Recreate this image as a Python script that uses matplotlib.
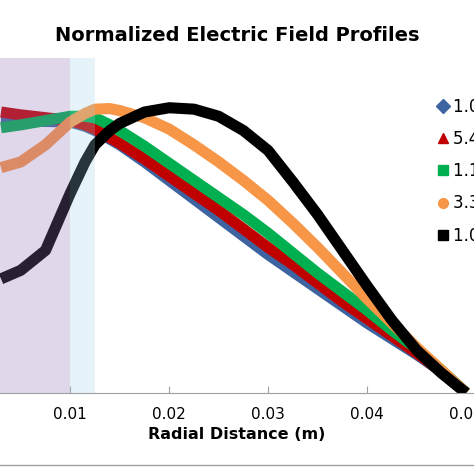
import numpy as np
import matplotlib
matplotlib.use("Agg")
import matplotlib.pyplot as plt
from matplotlib.lines import Line2D

x = [0.003, 0.005, 0.0075, 0.01, 0.0115, 0.0125, 0.014, 0.015, 0.0175, 0.02, 0.0225,
     0.025, 0.0275, 0.03, 0.0325, 0.035, 0.0375, 0.04, 0.0425, 0.045, 0.0475, 0.05]
blue = [0.955, 0.954, 0.952, 0.95, 0.935, 0.92, 0.89, 0.87, 0.81, 0.745, 0.68,
        0.615, 0.55, 0.485, 0.425, 0.365, 0.305, 0.245, 0.19, 0.135, 0.075, 0.0]
red = [0.985, 0.975, 0.965, 0.955, 0.94, 0.925, 0.895, 0.875, 0.82, 0.76, 0.70,
       0.64, 0.575, 0.51, 0.45, 0.385, 0.32, 0.26, 0.20, 0.14, 0.075, 0.0]
green = [0.93, 0.94, 0.955, 0.97, 0.97, 0.965, 0.94, 0.92, 0.865, 0.805, 0.745,
         0.685, 0.625, 0.56, 0.49, 0.42, 0.355, 0.29, 0.22, 0.155, 0.08, 0.0]
orange = [0.79, 0.81, 0.87, 0.95, 0.98, 0.995, 0.997, 0.99, 0.965, 0.925, 0.87,
          0.81, 0.745, 0.675, 0.595, 0.51, 0.42, 0.33, 0.245, 0.16, 0.08, 0.0]
black = [0.40, 0.43, 0.50, 0.70, 0.81, 0.87, 0.92, 0.945, 0.985, 1.0, 0.995,
         0.97, 0.92, 0.85, 0.74, 0.625, 0.50, 0.375, 0.255, 0.15, 0.07, 0.0]
labels = ["1.00E+08 Hz", "5.40E+08 Hz", "1.10E+09 Hz", "3.30E+09 Hz", "1.00E+10 Hz"]
colors = ["#3d64a0", "#c00000", "#00b050", "#f79646", "#000000"]
markers = ["D", "^", "s", "o", "s"]
xticks = [0.01, 0.02, 0.03, 0.04, 0.05]
xticklabels = ["0.01", "0.02", "0.03", "0.04", "0.05"]

fig = plt.figure(figsize=(4.74, 4.74), dpi=100)
ax = fig.add_axes([0.0, 0.171, 1.0, 0.707])
for ys, c in zip([blue, red, green, orange, black], colors):
    ax.plot(x, ys, color=c, lw=8, solid_capstyle="butt", solid_joinstyle="round", zorder=2)
ax.axvspan(-0.01, 0.01, color="#9370b8", alpha=0.28, lw=0, zorder=3)
ax.axvspan(0.01, 0.0125, color="#9fd0e6", alpha=0.25, lw=0, zorder=3)
ax.set_xlim(0.0029, 0.0508)
ax.set_ylim(0, 1.175)
ax.set_yticks([])
ax.set_xticks(xticks)
ax.set_xticklabels(xticklabels, fontsize=11)
ax.tick_params(axis="x", direction="in", length=5, color="#a0a0a0", pad=10)
for s in ["top", "right", "left"]:
    ax.spines[s].set_visible(False)
ax.spines["bottom"].set_color("#a0a0a0")
ax.set_xlabel("Radial Distance (m)", fontsize=11.5, fontweight="bold", labelpad=4)
fig.text(0.5, 0.926, "Normalized Electric Field Profiles", ha="center", va="center",
         fontsize=14, fontweight="bold")
handles = [Line2D([], [], ls="", marker=m, color=c, markersize=7) for m, c in zip(markers, colors)]
leg = fig.legend(handles, labels, loc="upper left", bbox_to_anchor=(0.885, 0.825),
                 frameon=False, fontsize=12, handletextpad=0.1, labelspacing=0.85,
                 handlelength=1.0)
fig.add_artist(Line2D([0, 1], [0.019, 0.019], color="#a0a0a0", lw=1))
fig.savefig("out.png", dpi=100)
